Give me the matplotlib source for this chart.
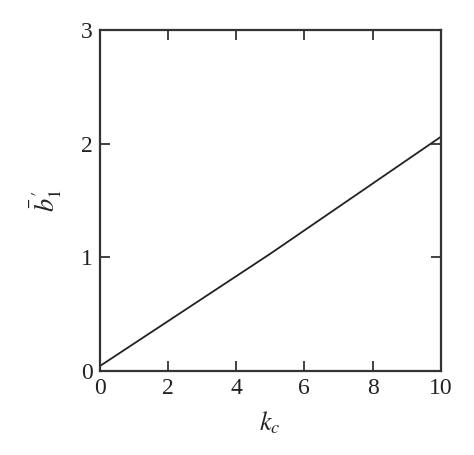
import matplotlib
matplotlib.use('Agg')
import matplotlib.pyplot as plt

# curve
kc = [0, 5, 10]
b1 = [0.04, 1.03, 2.06]

xticks = [0, 2, 4, 6, 8, 10]
yticks = [0, 1, 2, 3]

plt.rcParams['font.family'] = ['Liberation Serif', 'DejaVu Serif']
plt.rcParams['mathtext.fontset'] = 'stix'

fig = plt.figure(figsize=(4.74, 4.55), dpi=100)
ax = fig.add_axes([0.21, 0.185, 0.72, 0.749])

ax.plot(kc, b1, color='#222222', lw=1.3)

ax.set_xlim(0, 10)
ax.set_ylim(0, 3)
ax.set_xticks(xticks)
ax.set_yticks(yticks)
ax.tick_params(direction='in', top=True, right=True, length=7, width=1.3,
               labelsize=17, colors='#333333', labelcolor='#222222', pad=5)
for s in ax.spines.values():
    s.set_linewidth(1.6)
    s.set_color('#333333')

ax.set_xlabel(r'$k_c$', fontsize=19, color='#222222', labelpad=8)
ax.set_ylabel(r"$\bar{b}_1^{\,\prime}$", fontsize=19, color='#222222', labelpad=12)

fig.savefig('out.png', dpi=100)
